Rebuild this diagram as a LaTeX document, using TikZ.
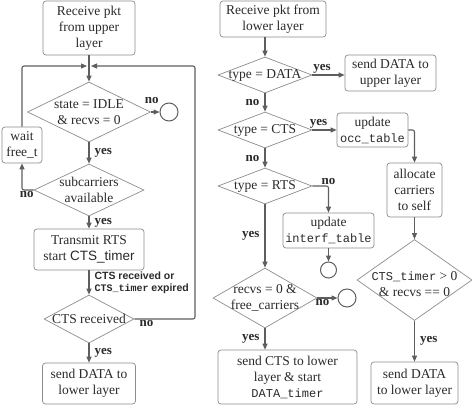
\documentclass[tikz,border=0pt]{standalone}
\usepackage{fontspec}
\setmainfont{Liberation Serif}
\setsansfont{Liberation Sans}
\setmonofont{Liberation Mono}
\usetikzlibrary{arrows.meta,shapes.geometric}

\definecolor{linegray}{HTML}{5E5E5E}
\definecolor{boxgray}{HTML}{8C8C8C}
\definecolor{textgray}{HTML}{2A2A2A}

\newcommand\boxfont{\fontsize{13.5}{16}\selectfont}
\newcommand\lblfont{\fontsize{13}{14}\selectfont\bfseries}
\newcommand\notefont{\fontsize{10.5}{12}\selectfont\sffamily\bfseries}
\newcommand\tcode[1]{{\fontsize{12}{16}\selectfont\ttfamily #1}}

\begin{document}
\begin{tikzpicture}[
  x=1pt, y=-1pt,
  box/.style={draw=boxgray, rounded corners=3pt, align=center, inner sep=0pt, font=\boxfont, text=textgray, line width=0.7pt},
  decision/.style={diamond, draw=boxgray, inner sep=0pt, line width=0.7pt},
  dtext/.style={align=center, font=\boxfont, text=textgray, inner sep=0pt},
  endpt/.style={circle, draw=linegray, line width=1pt, minimum size=18pt, inner sep=0pt},
  arrow/.style={-{Triangle[length=6pt,width=5pt]}, draw=linegray, line width=1.1pt, rounded corners=2pt},
  lbl/.style={font=\lblfont, text=textgray, inner sep=1pt},
  note/.style={font=\notefont, text=textgray, align=left, inner sep=1pt}
]
\useasboundingbox (0,0) rectangle (474,405);

% sender side
\node[box, minimum width=92pt, minimum height=54pt] (upper) at (89,28) {Receive pkt\\from upper\\layer};
\node[decision, minimum width=123pt, minimum height=60pt, label={[dtext]center:{state = IDLE\\\& recvs = 0}}] (idle) at (89,112) {};
\node[endpt] (idleEnd) at (169,112) {};
\node[decision, minimum width=110pt, minimum height=52pt, label={[dtext]center:{subcarriers\\available}}] (subc) at (89,190) {};
\node[box, minimum width=40pt, minimum height=36pt] (wait) at (22,145) {wait\\free\_t};
\node[box, minimum width=110pt, minimum height=41pt] (rts) at (89,249.5) {Transmit RTS\\start {\sffamily CTS\_timer}};
\node[decision, minimum width=90pt, minimum height=48pt, label={[dtext]center:{CTS received}}] (ctsrx) at (89,319) {};
\node[box, minimum width=93pt, minimum height=41pt] (sendLow) at (89,383.5) {send DATA to\\lower layer};
\coordinate (merge) at (89,66);
\coordinate (loopTop) at (195,66);

\draw[arrow] (upper) -- (idle);
\draw[arrow] (idle) -- node[lbl, above=7pt, pos=0.1]{no} (idleEnd);
\draw[arrow] (idle) -- node[lbl, right=4pt]{yes} (subc);
\draw[arrow] (subc.west) -| node[lbl, below, pos=0.3]{no} (wait.south);
\draw[arrow] (subc) -- node[lbl, right=4pt]{yes} (rts);
\draw[arrow] (rts) -- node[note, right=4pt]{CTS received or\\{\fontsize{10}{12}\selectfont\ttfamily CTS\_timer} expired} (ctsrx);
\draw[arrow] (ctsrx) -- node[lbl, right=4pt]{yes} (sendLow);
\draw[arrow, shorten >=2pt] (wait.north) |- (merge);
\draw[arrow, shorten >=2pt] (ctsrx.east) -| node[lbl, below, pos=0.1]{no} (loopTop) -- (merge);

% receiver side
\node[box, minimum width=106pt, minimum height=36pt] (lower) at (273,19) {Receive pkt from\\lower layer};
\node[decision, minimum width=94pt, minimum height=36pt, label={[dtext]center:{type = DATA}}] (tData) at (265,75) {};
\node[box, minimum width=91pt, minimum height=36pt] (sendUp) at (390.5,73) {send DATA to\\upper layer};
\node[decision, minimum width=94pt, minimum height=36pt, label={[dtext]center:{type = CTS}}] (tCts) at (265,130) {};
\node[box, minimum width=71pt, minimum height=34pt] (occ) at (372.5,130) {update\\\tcode{occ\_table}};
\node[box, minimum width=55pt, minimum height=54pt] (alloc) at (414.5,190) {allocate\\carriers\\to self};
\node[decision, minimum width=94pt, minimum height=36pt, label={[dtext]center:{type = RTS}}] (tRts) at (265,186) {};
\node[box, minimum width=91pt, minimum height=35pt] (interf) at (328.5,230.5) {update\\\tcode{interf\_table}};
\node[endpt, minimum size=16pt] (interfEnd) at (328.5,270) {};
\node[decision, minimum width=104pt, minimum height=60pt, label={[dtext]center:{recvs = 0 \&\\free\_carriers}}] (free) at (265,298) {};
\node[endpt] (freeEnd) at (347,298) {};
\node[box, minimum width=139pt, minimum height=54pt] (sendCts) at (287.5,377) {send CTS to lower\\layer \& start\\\tcode{DATA\_timer}};
\node[decision, minimum width=115pt, minimum height=81pt, label={[dtext, yshift=-4pt]center:{\tcode{CTS\_timer} > 0\\\& recvs == 0}}] (timer) at (414.5,280) {};
\node[box, minimum width=87pt, minimum height=42pt] (sendLow2) at (414.5,383) {send DATA\\to lower layer};

\draw[arrow] (lower.south -| tData.north) -- (tData.north);
\draw[arrow] (tData.east) -- node[lbl, above, pos=0.3]{yes} (tData.east -| sendUp.west);
\draw[arrow] (tData) -- node[lbl, left=4pt]{no} (tCts);
\draw[arrow] (tCts) -- node[lbl, above, pos=0.25]{yes} (occ);
\draw[arrow] (occ.east) -| (alloc.north);
\draw[arrow] (tCts) -- node[lbl, left=4pt]{no} (tRts);
\draw[arrow] (tRts.east) -| node[lbl, above, pos=0.5]{no} (interf.north);
\draw[arrow] (interf) -- (interfEnd);
\draw[arrow] (tRts) -- node[lbl, left=4pt]{yes} (free);
\draw[arrow] (free) -- node[lbl, below, pos=0.25]{no} (freeEnd);
\draw[arrow] (free.south) -- node[lbl, left=4pt]{yes} (free.south |- sendCts.north);
\draw[arrow] (alloc) -- (timer);
\draw[arrow] (timer) -- node[lbl, right=4pt]{yes} (sendLow2);
\end{tikzpicture}
\end{document}
